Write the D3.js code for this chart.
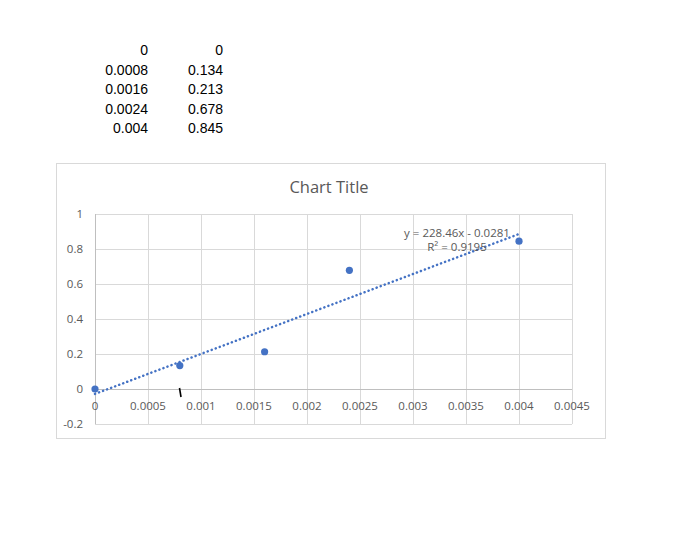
<!DOCTYPE html>
<html>
<head>
<meta charset="utf-8">
<script src="https://cdn.jsdelivr.net/npm/d3@7"></script>
<style>
body { margin: 0; background: #fff; }
svg { display: block; }
</style>
</head>
<body>
<script>
// data
let concentration = [0, 0.0008, 0.0016, 0.0024, 0.004];
let absorbance = [0, 0.134, 0.213, 0.678, 0.845];
let xTickValues = [0, 0.0005, 0.001, 0.0015, 0.002, 0.0025, 0.003, 0.0035, 0.004, 0.0045];
let yTickValues = [-0.2, 0, 0.2, 0.4, 0.6, 0.8, 1];
let trendSlope = 228.46;
let trendIntercept = -0.0281;
let trendLabel = ["y = 228.46x - 0.0281", "R² = 0.9195"];
let chartTitle = "Chart Title";

let svg = d3.select("body").append("svg")
  .attr("width", 700).attr("height", 556);

// the little table above the chart
let table = svg.append("g").attr("font-family", "Liberation Sans, Arial, sans-serif")
  .attr("font-size", 14).attr("fill", "#000");
concentration.forEach(function (c, i) {
  table.append("text").attr("x", 148).attr("y", 55 + i * 19.5)
    .attr("text-anchor", "end").text(String(c));
  table.append("text").attr("x", 223).attr("y", 55 + i * 19.5)
    .attr("text-anchor", "end").text(String(absorbance[i]));
});

// chart frame
svg.append("rect")
  .attr("x", 56.5).attr("y", 163.5).attr("width", 549).attr("height", 275)
  .attr("fill", "#fff").attr("stroke", "#d9d9d9");

svg.append("text")
  .attr("x", 329).attr("y", 193)
  .attr("text-anchor", "middle")
  .attr("font-family", "Open Sans, sans-serif").attr("font-size", 16.5)
  .attr("fill", "#595959").text(chartTitle);

let x = d3.scaleLinear().domain([0, 0.0045]).range([95, 572]);
let y = d3.scaleLinear().domain([-0.2, 1]).range([424, 214]);

let grid = svg.append("g").attr("stroke", "#d9d9d9").attr("stroke-width", 1);
grid.selectAll(".v").data(xTickValues).enter().append("line")
  .attr("x1", function (d) { return Math.round(x(d)) + 0.5; })
  .attr("x2", function (d) { return Math.round(x(d)) + 0.5; })
  .attr("y1", y(1)).attr("y2", y(-0.2));
grid.selectAll(".h").data(yTickValues).enter().append("line")
  .attr("y1", function (d) { return Math.round(y(d)) + 0.5; })
  .attr("y2", function (d) { return Math.round(y(d)) + 0.5; })
  .attr("x1", x(0)).attr("x2", x(0.0045));

// axis lines through zero
svg.append("line")
  .attr("x1", x(0)).attr("x2", x(0.0045))
  .attr("y1", Math.round(y(0)) + 0.5).attr("y2", Math.round(y(0)) + 0.5)
  .attr("stroke", "#bfbfbf");
svg.append("line")
  .attr("x1", Math.round(x(0)) + 0.5).attr("x2", Math.round(x(0)) + 0.5)
  .attr("y1", y(1)).attr("y2", y(-0.2))
  .attr("stroke", "#bfbfbf");

let labels = svg.append("g").attr("font-family", "Open Sans, sans-serif")
  .attr("font-size", 11.5).attr("fill", "#595959");
labels.selectAll(".yl").data(yTickValues).enter().append("text")
  .attr("x", 83).attr("y", function (d) { return y(d) + 4; })
  .attr("text-anchor", "end")
  .text(function (d) { return String(d); });
labels.selectAll(".xl").data(xTickValues).enter().append("text")
  .attr("x", function (d) { return x(d); }).attr("y", y(0) + 21)
  .attr("text-anchor", "middle")
  .text(function (d) { return String(d); });

// linear trendline, dotted
let trendX = [0, d3.max(concentration)];
svg.append("path")
  .datum(trendX)
  .attr("d", d3.line()
    .x(function (d) { return x(d); })
    .y(function (d) { return y(trendSlope * d + trendIntercept); }))
  .attr("fill", "none").attr("stroke", "#4472c4")
  .attr("stroke-width", 2.5).attr("stroke-linecap", "round")
  .attr("stroke-dasharray", "0.1 4.2");

svg.append("g").selectAll("circle")
  .data(concentration).enter().append("circle")
  .attr("cx", function (d) { return x(d); })
  .attr("cy", function (d, i) { return y(absorbance[i]); })
  .attr("r", 3.6).attr("fill", "#4472c4");

let eq = svg.append("g").attr("font-family", "Open Sans, sans-serif")
  .attr("font-size", 11.5).attr("fill", "#595959").attr("text-anchor", "middle");
trendLabel.forEach(function (t, i) {
  eq.append("text").attr("x", 457).attr("y", 237 + i * 13.5).text(t);
});

// stray pen mark on the screenshot
svg.append("line")
  .attr("x1", 179.5).attr("y1", 388).attr("x2", 181).attr("y2", 397)
  .attr("stroke", "#000").attr("stroke-width", 1.6);
</script>
</body>
</html>
